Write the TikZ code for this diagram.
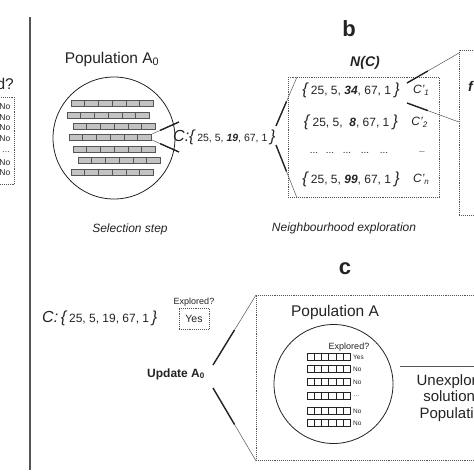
\documentclass[tikz,border=0pt]{standalone}
\usepackage{fontspec}
\setmainfont{Liberation Sans}
\usetikzlibrary{positioning, calc}
\definecolor{inkgray}{RGB}{35, 35, 35}
\definecolor{linegray}{RGB}{85, 85, 85}
\definecolor{barfill}{RGB}{195, 195, 195}
\newcommand{\fsz}[1]{\fontsize{#1}{#1}\selectfont}
\newcommand{\bopen}{{\fsz{16}\itshape\{}}
\newcommand{\bclose}{{\fsz{16}\itshape\}}}

\begin{document}
\begin{tikzpicture}[
  x=1pt, y=-1pt,
  every node/.style={text=inkgray, inner sep=0pt},
  panel/.style={font=\bfseries\fsz{22}},
  title/.style={font=\fsz{15.5}},
  caption/.style={font=\itshape\fsz{12}},
  rowtxt/.style={font=\fsz{12}},
  cprime/.style={font=\itshape\fsz{12}},
  tiny/.style={font=\fsz{6.5}},
  dotbox/.style={draw=linegray, densely dotted, line width=0.9pt},
  ring/.style={circle, draw=inkgray, line width=0.8pt},
  bar/.style={draw=linegray, fill=barfill, line width=0.5pt},
  cell/.style={draw=inkgray, fill=white, line width=0.6pt},
  leadthin/.style={linegray, line width=0.5pt},
  leadthick/.style={inkgray, line width=1.4pt}
]
  \useasboundingbox (0,0) rectangle (474,474);
  \clip (0,0) rectangle (474,474);

  % panel a (cut off)
  \node[title, anchor=east] (expl0) at (14,85) {Explored?};
  \node[dotbox, anchor=north east, minimum width=60pt, minimum height=87pt] (box0) at (15,97) {};
  \foreach \ry/\lab in {107/No, 118/No, 128/No, 139/No, 152/\ldots, 163/No, 173/No}
    \node[font=\fsz{8.5}, anchor=east] at (10.5,\ry) {\lab};
  \draw[linegray, line width=1.2pt] (30,17) -- (30,470);

  % panel b
  \node[panel] (lblb) at (349,29) {b};
  \node[title] (popa0) at (112,59) {Population A\textsubscript{0}};
  \node[ring, minimum size=122pt] (circa0) at (114,138) {};
  \foreach \bx/\by in {71/103, 67/115, 73/126, 69/137, 73/149, 78/160, 71/172}
    \foreach \i in {0,...,5}
      \draw[bar] (\bx+\i*13.7,\by-3) rectangle ++(13.7,6);
  \node[anchor=west] (csel) at (173,137)
    {{\fsz{16}\itshape C:}\bopen\ {\fsz{10.5}25, 5, \textbf{\textit{19}}, 67, 1}\ \bclose};
  \coordinate (s1) at (152,134);
  \coordinate (s2) at (152,140);
  \coordinate (e1) at (179,122);
  \coordinate (e2) at (179,152);
  \draw[leadthin] (s1) -- (e1);
  \draw[leadthick] ($(s1)!0.3!(e1)$) -- (e1);
  \draw[leadthin] (s2) -- (e2);
  \draw[leadthick] ($(s2)!0.3!(e2)$) -- (e2);

  \node[font=\bfseries\itshape\fsz{14}] (nclbl) at (365,63) {N(C)};
  \node[dotbox, anchor=north west, minimum width=151pt, minimum height=120pt] (ncbox) at (288,77) {};
  \coordinate (b1) at (276,126);
  \coordinate (b2) at (276,145);
  \coordinate (t1) at ($(ncbox.north west)+(9,0)$);
  \coordinate (t2) at ($(ncbox.south west)+(9,0)$);
  \draw[leadthin] (b1) -- (t1);
  \draw[leadthick] (b1) -- ($(b1)!0.5!(t1)$);
  \draw[leadthin] (b2) -- (t2);
  \draw[leadthick] (b2) -- ($(b2)!0.5!(t2)$);

  \node[rowtxt] (r1) at (351,90) {\bopen\ 25, 5, \textbf{\textit{34}}, 67, 1\ \bclose};
  \node[rowtxt] (r2) at (351,122) {\bopen\ 25, 5, \ \textbf{\textit{8}}, 67, 1\ \bclose};
  \node[rowtxt] (r4) at (351,179) {\bopen\ 25, 5, \textbf{\textit{99}}, 67, 1\ \bclose};
  \foreach \dx in {314,330,347,365,384}
    \node[font=\fsz{10}] at (\dx,153) {...};
  \node[font=\fsz{10}, text=gray] (rdash) at (422,153) {–};
  \node[cprime, right=13pt of r1] (c1) {C'\textsubscript{1}};
  \node[cprime, right=13pt of r2] (c2) {C'\textsubscript{2}};
  \node[cprime, right=13pt of r4] (cn) {C'\textsubscript{n}};

  \node[dotbox, anchor=north west, minimum width=60pt, minimum height=165pt] (rbox) at (459,50) {};
  \node[font=\bfseries\itshape\fsz{14}, anchor=west] (fval) at (468,86) {f};
  \coordinate (g1) at (407,83);
  \coordinate (g2) at (407,103);
  \coordinate (h1) at ($(rbox.north west)+(0,3)$);
  \coordinate (h2) at ($(rbox.north west)+(0,72)$);
  \draw[leadthin] (g1) -- (h1);
  \draw[leadthick] (g1) -- ($(g1)!0.4!(h1)$);
  \draw[leadthin] (g2) -- (h2);
  \draw[leadthick] (g2) -- ($(g2)!0.4!(h2)$);

  \node[caption] (selcap) at (130,229) {Selection step};
  \node[caption] (nbcap) at (344,228) {Neighbourhood exploration};

  % panel c
  \node[panel] (lblc) at (345,269) {c};
  \node[anchor=west] (cupd) at (42,318)
    {{\fsz{16}\itshape C:}\ \bopen\ {\fsz{12}25, 5, 19, 67, 1}\ \bclose};
  \node[dotbox, minimum width=30pt, minimum height=21pt, font=\fsz{10.5}] (yesbox) at (194,318.5) {Yes};
  \node[font=\fsz{9}, above=1pt of yesbox] (explq) {Explored?};
  \node[font=\bfseries\fsz{12}] (upd) at (176,374) {Update A\textsubscript{0}};

  \node[dotbox, anchor=north west, minimum width=240pt, minimum height=165pt] (cbox) at (256,295) {};
  \coordinate (u1) at (213,365);
  \coordinate (u2) at (213,388);
  \draw[leadthin] (u1) -- (cbox.north west);
  \draw[leadthick] (u1) -- ($(u1)!0.5!(cbox.north west)$);
  \draw[leadthin] (u2) -- (cbox.south west);
  \draw[leadthick] (u2) -- ($(u2)!0.5!(cbox.south west)$);

  \node[title] (popa) at (335,312) {Population A};
  \node[ring, minimum size=119pt] (circa) at (333.5,384) {};
  \node[font=\fsz{9}] (explin) at (349,347) {Explored?};
  \foreach \cy/\lab in {357/Yes, 369/No, 382/No, 396/\ldots, 411/No, 423/No} {
    \foreach \i in {0,...,5}
      \draw[cell] (307+\i*7.2,\cy-3.5) rectangle ++(7.2,7);
    \node[tiny, anchor=west] at (353,\cy) {\lab};
  }
  \coordinate (hl) at (400,366);
  \draw[linegray, line width=1pt] (hl) -- (480,366);
  \node[align=center, font=\fontsize{15}{16.5}\selectfont] (unexp) at (455,398)
    {Unexplored\\solutions:\\Population};
\end{tikzpicture}
\end{document}
